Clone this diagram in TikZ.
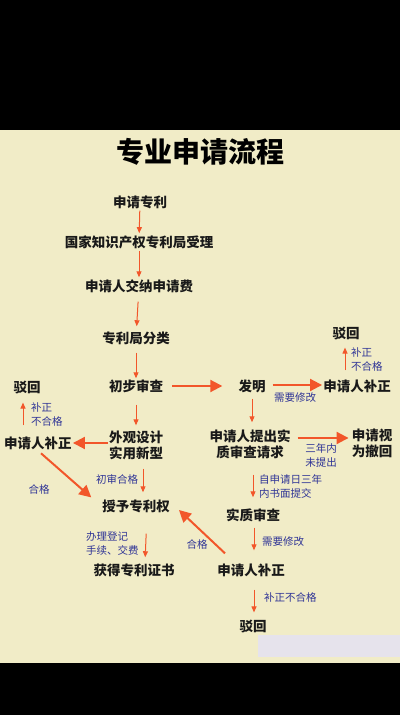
\documentclass[tikz,border=0pt]{standalone}
\usepackage{fontspec}
\newfontfamily\cjk{Noto Sans CJK SC}
\usetikzlibrary{arrows.meta}

\definecolor{cream}{HTML}{F1ECC7}
\definecolor{flow}{HTML}{F2562A}
\definecolor{note}{HTML}{2F3496}
\definecolor{pad}{HTML}{E6E3EC}

\tikzset{
  stage/.style={font=\cjk\bfseries\fontsize{13.5}{16}\selectfont, text=black!90, align=center, inner sep=1pt},
  remark/.style={font=\cjk\fontsize{10.5}{14}\selectfont, text=note, align=left, inner sep=0pt},
  go/.style={draw=flow, line width=1pt, -{Triangle[length=6pt,width=5pt]}},
  bigstep/.style={draw=flow, line width=2pt, -{Triangle[length=12pt,width=12pt]}},
}

\begin{document}
\begin{tikzpicture}[x=1pt,y=1pt]

  % page: black bands and cream sheet
  \fill[black] (0,0) rectangle (400,715);
  \fill[cream] (0,52) rectangle (400,585);
  \fill[pad] (258,58) rectangle (400,80);

  % title
  \node[font=\cjk\bfseries\fontsize{28}{30}\selectfont] (title) at (200,563) {专业申请流程};

  % main column
  \node[stage] (apply) at (140,513) {申请专利};
  \node[stage] (accept) at (139,473) {国家知识产权专利局受理};
  \node[stage] (fee) at (139,429) {申请人交纳申请费};
  \node[stage] (classify) at (136,377) {专利局分类};
  \node[stage] (prelim) at (136,329) {初步审查};
  \node[stage] (design) at (136,270) {外观设计\\实用新型};
  \node[stage] (grant) at (136,209) {授予专利权};
  \node[stage] (cert) at (134,145) {获得专利证书};

  % invention branch
  \node[stage] (invent) at (252,329) {发明};
  \node[stage] (fixR) at (357,329) {申请人补正};
  \node[stage] (rejR) at (346,382) {驳回};
  \node[stage] (request) at (250,271) {申请人提出实\\质审查请求};
  \node[stage] (withdraw) at (372,272) {申请视\\为撤回};
  \node[stage] (exam) at (253,200) {实质审查};
  \node[stage] (fixB) at (251,145) {申请人补正};
  \node[stage] (rejB) at (253,89) {驳回};

  % design / utility branch
  \node[stage] (fixL) at (38,272) {申请人补正};
  \node[stage] (rejL) at (27,328) {驳回};

  % small arrows
  \draw[go, shorten <=1pt, shorten >=1pt] (apply) -- (accept);
  \draw[go, shorten <=1pt, shorten >=1pt] (accept) -- (fee);
  \draw[go, shorten <=8pt, shorten >=4pt] (fee) -- (classify);
  \draw[go, shorten <=7pt] (classify) -- (prelim);
  \draw[go, shorten <=11pt, shorten >=4pt] (prelim.south) -- (design.north);
  \draw[go, shorten <=8pt, shorten >=6pt] ([xshift=7pt]design.south) -- ([xshift=7pt]grant.north);
  \draw[go, shorten <=20pt, shorten >=5pt] ([xshift=11pt]grant.south) -- ([xshift=11pt]cert.north);
  \draw[go, shorten <=5pt, shorten >=6pt] (invent.south) -- (request.north -| invent.south);
  \draw[go, shorten <=15pt, shorten >=10pt] (request.south -| exam.north) -- (exam.north);
  \draw[go, shorten <=5pt, shorten >=12pt] ([xshift=1pt]exam.south) -- ([xshift=3pt]fixB.north);
  \draw[go, shorten <=12pt, shorten >=6pt] ([xshift=3pt]fixB.south) -- ([xshift=1pt]rejB.north);
  \draw[go, shorten <=8pt, shorten >=7pt] ([xshift=-12pt]fixR.north) -- ([xshift=-1pt]rejR.south);
  \draw[go, shorten <=10pt, shorten >=8pt] ([xshift=-15pt]fixL.north) -- ([xshift=-4pt]rejL.south);

  % big arrows
  \draw[bigstep, shorten <=8pt, shorten >=15pt] (prelim.east) -- (invent.west);
  \draw[bigstep, shorten <=6pt] ([yshift=1pt]invent.east) -- ([yshift=1pt]fixR.west);
  \draw[bigstep] (fixL.east -| design.west) -- (fixL.east);
  \draw[bigstep, shorten <=6pt, shorten >=2pt] ([yshift=6pt]request.east) -- ([yshift=5pt]withdraw.west);
  \draw[bigstep, shorten <=4pt, shorten >=13pt] (fixL.south) -- (grant.west);
  \draw[bigstep] ([shift={(-26pt,9pt)}]fixB.north) -- ([shift={(8pt,-4pt)}]grant.east);

  % blue notes
  \node[remark] (reviseR) at (295,317) {需要修改};
  \node[remark, anchor=west] (failR) at (351,355) {补正\\不合格};
  \node[remark, anchor=west] (failL) at (31,300) {补正\\不合格};
  \node[remark] (late) at (321,260) {三年内\\未提出};
  \node[remark] (passL) at (39,225) {合格};
  \node[remark] (passPre) at (117,236) {初审合格};
  \node[remark, anchor=west] (within) at (259,228.5) {自申请日三年\\内书面提交};
  \node[remark] (passR) at (197,170) {合格};
  \node[remark, anchor=west] (reviseB) at (262,173) {需要修改};
  \node[remark, anchor=west] (failB) at (264,117) {补正不合格};
  \node[remark, anchor=west] (register) at (86,171.5) {办理登记\\手续、交费};

\end{tikzpicture}
\end{document}
